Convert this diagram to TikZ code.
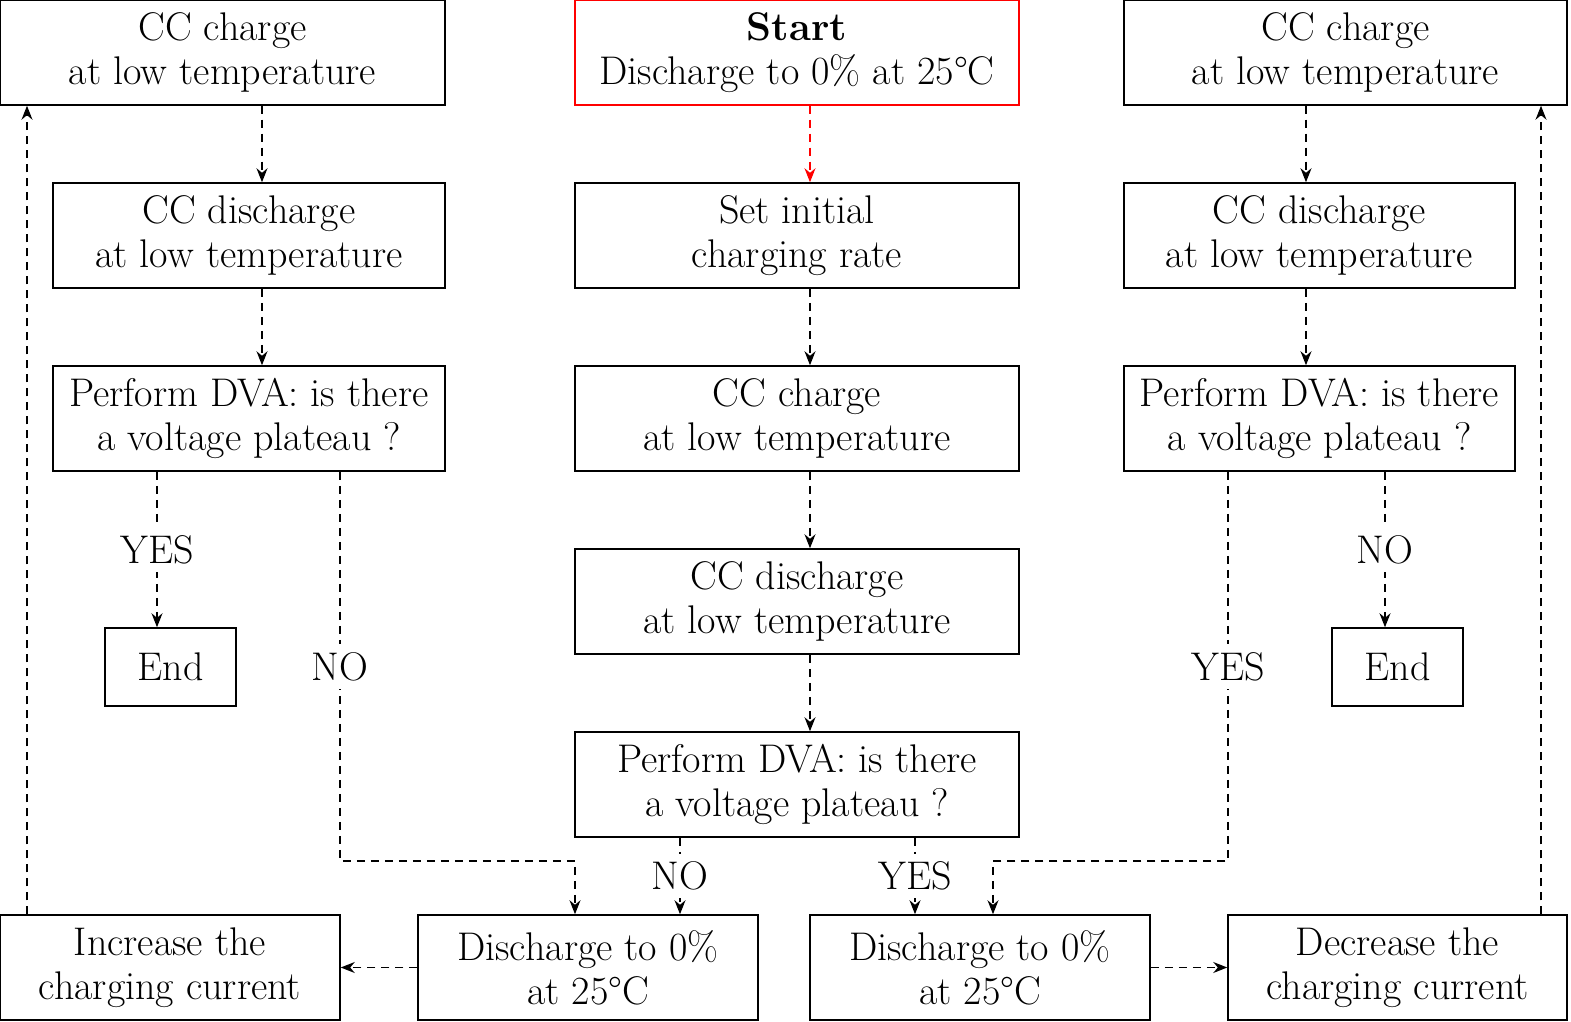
\documentclass[tikz,border=0pt]{standalone}
\usetikzlibrary{arrows.meta}
\begin{document}
\begin{tikzpicture}[x=0.5pt,y=-0.5pt,
 box/.style={draw,line width=0.75pt,inner sep=0pt,align=center,font=\fontsize{20}{22}\selectfont,minimum height=52.5pt},
 arr/.style={dash pattern=on 4pt off 3pt,line width=0.65pt,-{Stealth[length=7pt,width=5.5pt]}},
 lab/.style={fill=white,font=\fontsize{20}{22}\selectfont,inner xsep=1pt,inner ysep=4pt}]
\useasboundingbox (0,0) rectangle (1571,1022);
\node[box,minimum width=222.5pt] (tl) at (222.5,52.5) {CC charge\\at low temperature};
\node[box,draw=red,minimum width=222pt] (st) at (797,52.5) {\textbf{Start}\\Discharge to 0\% at 25°C};
\node[box,minimum width=221.5pt] (tr) at (1345.5,52.5) {CC charge\\at low temperature};
\node[box,minimum width=196pt] (l2) at (249,235.5) {CC discharge\\at low temperature};
\node[box,minimum width=222pt] (c2) at (797,235.5) {Set initial\\charging rate};
\node[box,minimum width=195.5pt] (r2) at (1319.5,235.5) {CC discharge\\at low temperature};
\node[box,minimum width=196pt] (l3) at (249,418.5) {Perform DVA: is there\\a voltage plateau ?};
\node[box,minimum width=222pt] (c3) at (797,418.5) {CC charge\\at low temperature};
\node[box,minimum width=195.5pt] (r3) at (1319.5,418.5) {Perform DVA: is there\\a voltage plateau ?};
\node[box,minimum width=222pt] (c4) at (797,601.5) {CC discharge\\at low temperature};
\node[box,minimum width=222pt] (c5) at (797,784.5) {Perform DVA: is there\\a voltage plateau ?};
\node[box,minimum width=65.5pt,minimum height=39pt] (eL) at (170.5,667) {End};
\node[box,minimum width=65.5pt,minimum height=39pt] (eR) at (1397.5,667) {End};
\node[box,minimum width=170pt] (inc) at (170,967.5) {Increase the\\charging current};
\node[box,minimum width=170pt] (dL) at (588,967.5) {Discharge to 0\%\\at 25°C};
\node[box,minimum width=170pt] (dR) at (980,967.5) {Discharge to 0\%\\at 25°C};
\node[box,minimum width=169.5pt] (dec) at (1397.5,967.5) {Decrease the\\charging current};
\coordinate (xa) at (262,0); \coordinate (xb) at (810,0); \coordinate (xc) at (1306,0);
\coordinate (xy1) at (157,0); \coordinate (xn1) at (340,0); \coordinate (xd1) at (575,0);
\coordinate (xn2) at (680,0); \coordinate (xy2) at (915,0); \coordinate (xd2) at (993,0);
\coordinate (xy3) at (1228,0); \coordinate (xn3) at (1385,0);
\coordinate (xl) at (27,0); \coordinate (xr) at (1541,0);
\coordinate (hy) at (0,861);
\draw[arr] (tl.south -| xa) -- (l2.north -| xa);
\draw[arr] (l2.south -| xa) -- (l3.north -| xa);
\draw[arr,red] (st.south -| xb) -- (c2.north -| xb);
\draw[arr] (c2.south -| xb) -- (c3.north -| xb);
\draw[arr] (c3.south -| xb) -- (c4.north -| xb);
\draw[arr] (c4.south -| xb) -- (c5.north -| xb);
\draw[arr] (tr.south -| xc) -- (r2.north -| xc);
\draw[arr] (r2.south -| xc) -- (r3.north -| xc);
\draw[arr] (l3.south -| xy1) -- node[lab,pos=0.5]{YES} (eL.north -| xy1);
\draw[arr] (r3.south -| xn3) -- node[lab,pos=0.5]{NO} (eR.north -| xn3);
\draw[arr] (l3.south -| xn1) -- node[lab,pos=0.5]{NO} (hy -| xn1) -- (hy -| xd1) -- (dL.north -| xd1);
\draw[arr] (r3.south -| xy3) -- node[lab,pos=0.5]{YES} (hy -| xy3) -- (hy -| xd2) -- (dR.north -| xd2);
\draw[arr] (c5.south -| xn2) -- node[lab,pos=0.5]{NO} (dL.north -| xn2);
\draw[arr] (c5.south -| xy2) -- node[lab,pos=0.5]{YES} (dR.north -| xy2);
\draw[arr] (dL.west) -- (inc.east);
\draw[arr] (dR.east) -- (dec.west);
\draw[arr] (inc.north -| xl) -- (tl.south -| xl);
\draw[arr] (dec.north -| xr) -- (tr.south -| xr);
\end{tikzpicture}
\end{document}
